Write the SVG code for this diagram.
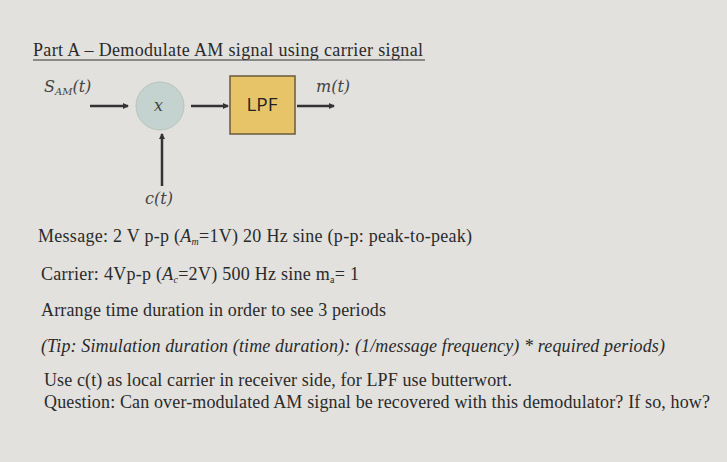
<svg xmlns="http://www.w3.org/2000/svg" width="727" height="462" viewBox="0 0 727 462">
<style>
.t{font-family:"Liberation Serif",serif;font-size:18px;fill:#2a2a2a}
.m{font-family:"DejaVu Serif",serif;font-style:italic;font-size:16px;fill:#444}
.c{stroke:#333;stroke-width:2.5;fill:none}
</style>
<defs><marker id="a" markerWidth="6" markerHeight="6" refX="5" refY="3" orient="auto" markerUnits="userSpaceOnUse"><path d="M0,0L6,3L0,6z" fill="#333"/></marker></defs>
<rect width="727" height="462" fill="#e2e1de"/>
<text class="t" x="33" y="56" textLength="390">Part A – Demodulate AM signal using carrier signal</text>
<line x1="33" y1="60" x2="425" y2="60" stroke="#333" stroke-width="1"/>
<g id="multiplier"><circle cx="160" cy="106" r="24" fill="#c4d2d0" stroke="#b8c4bc"/><text class="m" x="154" y="111">x</text></g>
<g id="lpf"><rect x="230" y="76" width="65" height="58" fill="#e8c468" stroke="#6a5a3a" stroke-width="1.5"/><text x="262" y="111" text-anchor="middle" font-family="Open Sans,sans-serif" font-size="19" fill="#222">LPF</text></g>
<g id="labels">
<text class="m" x="44" y="92">S<tspan font-size="10" dy="3">AM</tspan><tspan dy="-3">(t)</tspan></text>
<text class="m" x="316" y="92">m(t)</text>
<text class="m" x="145" y="204">c(t)</text>
</g>
<g id="connectors">
<line class="c" x1="90" y1="106" x2="128" y2="106" marker-end="url(#a)"/>
<line class="c" x1="191" y1="106" x2="228" y2="106" marker-end="url(#a)"/>
<line class="c" x1="297" y1="106" x2="334" y2="106" marker-end="url(#a)"/>
<line class="c" x1="162" y1="186" x2="162" y2="134" marker-end="url(#a)"/>
</g>
<text class="t" x="38" y="242" textLength="434">Message: 2 V p-p (<tspan font-style="italic">A<tspan font-size="10" dy="3">m</tspan></tspan><tspan dy="-3">=1V) 20 Hz sine (p-p: peak-to-peak)</tspan></text>
<text class="t" x="41" y="280" textLength="318">Carrier: 4Vp-p (<tspan font-style="italic">A<tspan font-size="10" dy="3">c</tspan></tspan><tspan dy="-3">=2V) 500 Hz sine m</tspan><tspan font-size="10" dy="3">a</tspan><tspan dy="-3">= 1</tspan></text>
<text class="t" x="41" y="316" textLength="345">Arrange time duration in order to see 3 periods</text>
<text class="t" x="41" y="352" font-style="italic" textLength="624">(Tip: Simulation duration (time duration): (1/message frequency) * required periods)</text>
<text class="t" x="44" y="386" textLength="468">Use c(t) as local carrier in receiver side, for LPF use butterwort.</text>
<text class="t" x="44" y="408" textLength="666">Question:  Can over-modulated AM signal be recovered with this demodulator? If so, how?</text>
</svg>
